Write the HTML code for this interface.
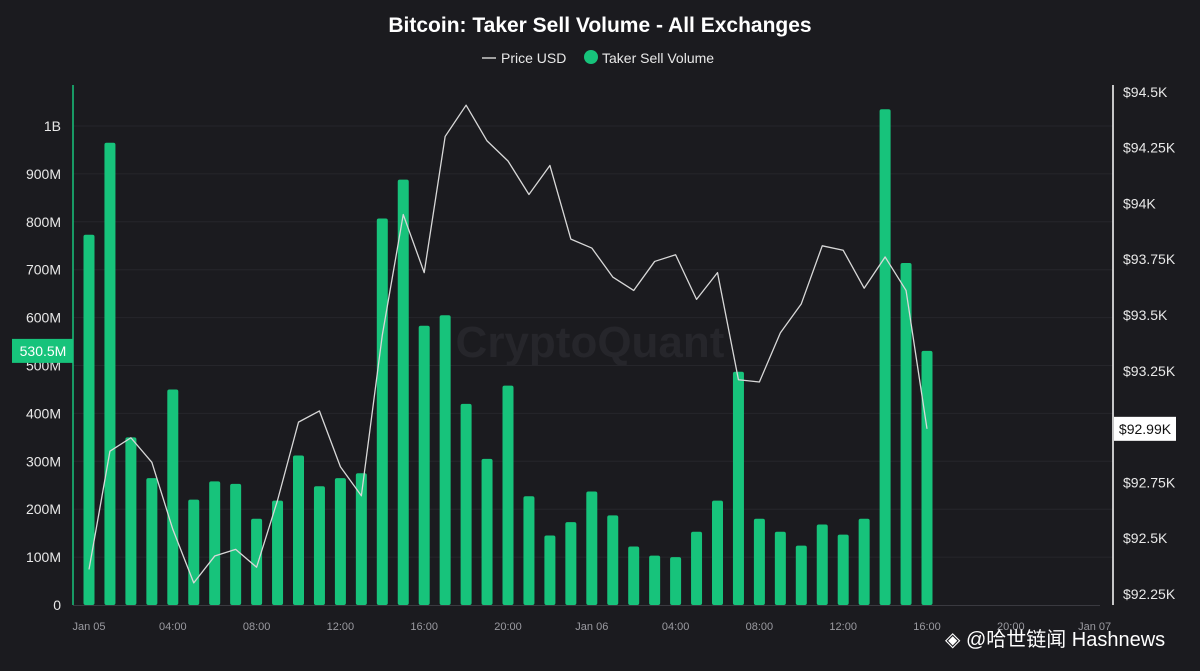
<!DOCTYPE html>
<html><head><meta charset="utf-8"><style>
html,body{margin:0;padding:0;background:#1b1b1f;}
body{width:1200px;height:666px;overflow:hidden;font-family:"Liberation Sans","Noto Sans CJK SC",sans-serif;}
svg text{font-family:"Liberation Sans","Noto Sans CJK SC",sans-serif;}
</style></head><body>
<svg id="chart" width="1200" height="666" viewBox="0 0 1200 666" xmlns="http://www.w3.org/2000/svg">
<rect width="1200" height="666" fill="#1b1b1f"/>
<text x="600" y="32" text-anchor="middle" fill="#ffffff" font-size="21" font-weight="bold">Bitcoin: Taker Sell Volume - All Exchanges</text>
<g>
<line x1="482" y1="58" x2="496" y2="58" stroke="#cccccc" stroke-width="1.5"/>
<text x="501" y="63" fill="#e8e8e8" font-size="14">Price USD</text>
<circle cx="591" cy="57" r="7" fill="#17c37b"/>
<text x="602" y="63" fill="#e8e8e8" font-size="14">Taker Sell Volume</text>
</g>
<text x="590" y="357" text-anchor="middle" fill="#26262b" font-size="44" font-weight="bold">CryptoQuant</text>
<g id="grid"></g><g id="bars"></g><g id="line"></g><g id="axes"></g>
<text x="945" y="646" fill="#ffffff" font-size="20">◈ @哈世链闻 Hashnews</text>
</svg>
<script>
const hours = [0,1,2,3,4,5,6,7,8,9,10,11,12,13,14,15,16,17,18,19,20,21,22,23,24,25,26,27,28,29,30,31,32,33,34,35,36,37,38,39,40];
const volumeM = [773,965,350,265,450,220,258,253,180,218,312,248,265,275,807,888,583,605,420,305,458,227,145,173,237,187,122,103,100,153,218,487,180,153,124,168,147,180,1035,714,530.5];
const priceK = [92.36,92.89,92.95,92.84,92.54,92.30,92.42,92.45,92.37,92.67,93.02,93.07,92.82,92.69,93.41,93.95,93.69,94.30,94.44,94.28,94.19,94.04,94.17,93.84,93.80,93.67,93.61,93.74,93.77,93.57,93.69,93.21,93.20,93.42,93.55,93.81,93.79,93.62,93.76,93.61,92.99];
const leftTicks = [0,100,200,300,400,500,600,700,800,900,1000];
const leftTickLabels = ["0","100M","200M","300M","400M","500M","600M","700M","800M","900M","1B"];
const rightTicks = [92.25,92.5,92.75,93,93.25,93.5,93.75,94,94.25,94.5];
const rightTickLabels = ["$92.25K","$92.5K","$92.75K","$93K","$93.25K","$93.5K","$93.75K","$94K","$94.25K","$94.5K"];
const xTickHours = [0,4,8,12,16,20,24,28,32,36,40,44,48];
const xTickLabels = ["Jan 05","04:00","08:00","12:00","16:00","20:00","Jan 06","04:00","08:00","12:00","16:00","20:00","Jan 07"];

const NS="http://www.w3.org/2000/svg";
const x = h => 89 + h*20.95;
const yL = v => 605 - v*0.479;
const yR = p => 594 - (p-92.25)/0.25*55.8;
function mk(tag, attrs, parent){const e=document.createElementNS(NS,tag);for(const k in attrs)e.setAttribute(k,attrs[k]);parent.appendChild(e);return e;}
const grid=document.getElementById('grid'),bars=document.getElementById('bars'),line=document.getElementById('line'),axes=document.getElementById('axes');

leftTicks.forEach((v,i)=>{
  if(v>0){const g=mk('line',{x1:73,x2:1113,y1:yL(v),y2:yL(v),stroke:'#26262b','stroke-width':1},grid);
  
  }
  const t=mk('text',{x:61,y:yL(v)+5,'text-anchor':'end',fill:'#e8e8e8','font-size':14},axes);
  t.textContent=leftTickLabels[i];
  
  
});
rightTicks.forEach((p,i)=>{
  const t=mk('text',{x:1123,y:yR(p)+5,fill:'#e8e8e8','font-size':14},axes);
  t.textContent=rightTickLabels[i];
  
  
});
xTickHours.forEach((h,i)=>{
  const t=mk('text',{x:x(h),y:630,'text-anchor':'middle',fill:'#9a9aa0','font-size':11},axes);
  t.textContent=xTickLabels[i];
  
  
});
hours.forEach((h,i)=>{
  const top=yL(volumeM[i]);
  const b=mk('rect',{x:x(h)-5.5,y:top,width:11,height:605-top,rx:2,fill:'#17c37b'},bars);
  
  
});
const pts=hours.map((h,i)=>x(h)+','+yR(priceK[i])).join(' ');
const pl=mk('polyline',{points:pts,fill:'none',stroke:'#d8d8d8','stroke-width':1.3,'stroke-linejoin':'round'},line);



const al=mk('line',{x1:73,x2:73,y1:85,y2:605,stroke:'#17c37b','stroke-width':1.5},axes);


const ar=mk('line',{x1:1113,x2:1113,y1:85,y2:605,stroke:'#ffffff','stroke-width':1.5},axes);


const ab=mk('line',{x1:73,x2:1100,y1:605.5,y2:605.5,stroke:'#3a3a40','stroke-width':1},axes);



const lastV=volumeM[volumeM.length-1], lastP=priceK[priceK.length-1];
const bl=mk('rect',{x:12,y:yL(lastV)-12,width:61,height:24,fill:'#17c37b'},axes);


const blt=mk('text',{x:43,y:yL(lastV)+5,'text-anchor':'middle',fill:'#ffffff','font-size':14},axes);
blt.textContent=lastV+'M';


const br=mk('rect',{x:1114,y:yR(lastP)-12,width:62,height:24,fill:'#ffffff'},axes);


const brt=mk('text',{x:1145,y:yR(lastP)+5,'text-anchor':'middle',fill:'#111111','font-size':14},axes);
brt.textContent='$'+lastP.toFixed(2)+'K';


</script>
</body></html>
